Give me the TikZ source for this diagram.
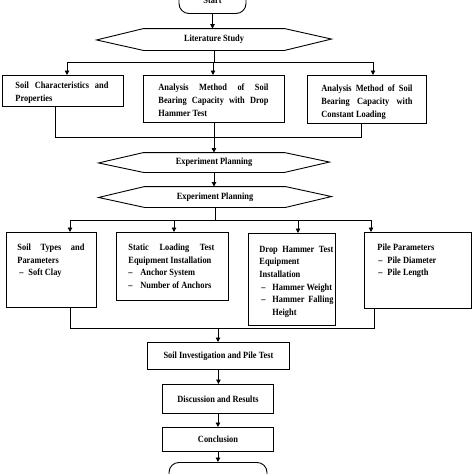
\documentclass[tikz,border=0pt]{standalone}
\usepackage{fontspec}
\setmainfont{Liberation Serif}[FakeStretch=0.88]
\usetikzlibrary{arrows.meta}
\newcommand\jline[2]{\makebox[#1][s]{#2}}
\newcommand\hexdraw[2]{\draw (#1.north west) -- (#1.north east) -- ++(#2,\hexh) -- (#1.south east) -- (#1.south west) -- ++(-#2,-\hexh) -- cycle;}
\newcommand\hexh{10}
\begin{document}
\begin{tikzpicture}[x=1pt,y=-1pt,
  line width=0.9pt,
  box/.style={draw, rectangle, inner sep=0pt, anchor=north west, font=\fontsize{9.5}{11}\selectfont\bfseries},
  txt/.style={anchor=north west, inner sep=0pt, align=left, font=\fontsize{9.5}{12.7}\selectfont\bfseries},
  hex/.style={inner sep=0pt, font=\fontsize{9.5}{11}\selectfont\bfseries},
  term/.style={draw, rounded corners=10pt, inner sep=0pt, font=\fontsize{9.5}{11}\selectfont\bfseries},
  arr/.style={-{Triangle[length=4.5pt,width=4.5pt]}},
]
\useasboundingbox (0,0) rectangle (474,474);

% terminals
\node[term, minimum width=67pt, minimum height=26pt] (start) at (212.5,0.5) {Start};
\node[term, minimum width=98pt, minimum height=30pt, anchor=north] (end) at (218,462) {};

% hexagons
\node[hex, minimum width=140pt, minimum height=21pt] (lit) at (214,39.5) {Literature Study};
\renewcommand\hexh{10.5}\hexdraw{lit}{47}
\node[hex, minimum width=140pt, minimum height=19pt] (ep1) at (214,162.5) {Experiment Planning};
\renewcommand\hexh{9.5}\hexdraw{ep1}{45}
\node[hex, minimum width=140pt, minimum height=20pt] (ep2) at (215,197) {Experiment Planning};
\renewcommand\hexh{10}\hexdraw{ep2}{46}

% first row boxes
\node[box, minimum width=121pt, minimum height=31pt] (b1) at (2,75) {};
\node[box, minimum width=141pt, minimum height=47pt] (b2) at (143,75) {};
\node[box, minimum width=119pt, minimum height=48pt] (b3) at (307,75) {};
\node[txt] (t1) at (15,81.5) {\jline{93pt}{Soil Characteristics and}\\Properties};
\node[txt] (t2) at (158,83.5) {\jline{110pt}{Analysis Method of Soil}\\\jline{110pt}{Bearing Capacity with Drop}\\Hammer Test};
\node[txt] (t3) at (321,84.5) {\jline{91pt}{Analysis Method of Soil}\\\jline{91pt}{Bearing Capacity with}\\Constant Loading};

% second row boxes
\node[box, minimum width=90pt, minimum height=75pt] (bA) at (6,232) {};
\node[box, minimum width=112pt, minimum height=68pt] (bB) at (116,232) {};
\node[box, minimum width=87pt, minimum height=92pt] (bC) at (248,233) {};
\node[box, minimum width=107pt, minimum height=76pt] (bD) at (364,232) {};
\node[txt] (tA) at (17,243.5) {\jline{67pt}{Soil Types and}\\Parameters\\\hspace*{2pt}\makebox[9pt][l]{--}Soft Clay};
\node[txt] (tB) at (128,243.5) {\jline{86pt}{Static Loading Test}\\Equipment Installation\\\makebox[12pt][l]{--}Anchor System\\\makebox[12pt][l]{--}Number of Anchors};
\node[txt] (tC) at (259,245.5) {\jline{74pt}{Drop Hammer Test}\\Equipment\\Installation\\\hspace*{2pt}\makebox[11pt][l]{--}Hammer Weight\\\makebox[74pt][s]{\hspace*{2pt}\makebox[11pt][l]{--}Hammer Falling}\\\hspace*{13pt}Height};
\node[txt] (tD) at (377,243.5) {Pile Parameters\\\hspace*{1pt}\makebox[9pt][l]{--}Pile Diameter\\\hspace*{1pt}\makebox[9pt][l]{--}Pile Length};

% lower boxes
\node[box, minimum width=142pt, minimum height=27pt] (s1) at (147,342) {Soil Investigation and Pile Test};
\node[box, minimum width=111pt, minimum height=29pt] (s2) at (162,384) {Discussion and Results};
\node[box, minimum width=111pt, minimum height=24pt] (s3) at (162,427) {Conclusion};

% connectors
\draw[arr] (start.south) -- (start.south |- lit.north);
\coordinate (j1) at (213,62);
\coordinate (p1) at (67,62);
\coordinate (p3) at (373,62);
\draw (lit.south) -- (lit.south |- j1);
\draw (p1) -- (p3);
\draw[arr] (p1) -- (p1 |- b1.north);
\draw[arr] (j1) -- (j1 |- b2.north);
\draw[arr] (p3) -- (p3 |- b3.north);

\coordinate (u1) at (55,137);
\coordinate (u3) at (361,137);
\draw (u1 |- b1.south) -- (u1) -- (u3) -- (u3 |- b3.south);
\draw[arr] (b2.south) -- (b2.south |- ep1.north);
\draw[arr] (ep1.south) -- (ep1.south |- ep2.north);

\coordinate (j2) at (215,220);
\coordinate (v1) at (70,220);
\coordinate (v2) at (174,220);
\coordinate (v3) at (298,220);
\coordinate (v4) at (371,220);
\draw (ep2.south) -- (j2);
\draw (v1) -- (v4);
\draw[arr] (v1) -- (v1 |- bA.north);
\draw[arr] (v2) -- (v2 |- bB.north);
\draw[arr] (v3) -- (v3 |- bC.north);
\draw[arr] (v4) -- (v4 |- bD.north);

\coordinate (w1) at (70,328);
\coordinate (w4) at (374,328);
\coordinate (w0) at (218,328);
\draw (w1 |- bA.south) -- (w1) -- (w4) -- (w4 |- bD.south);
\draw[arr] (w0) -- (w0 |- s1.north);
\draw[arr] (s1.south) -- (s1.south |- s2.north);
\draw[arr] (s2.south) -- (s2.south |- s3.north);
\draw[arr] (s3.south) -- (s3.south |- end.north);
\end{tikzpicture}
\end{document}
